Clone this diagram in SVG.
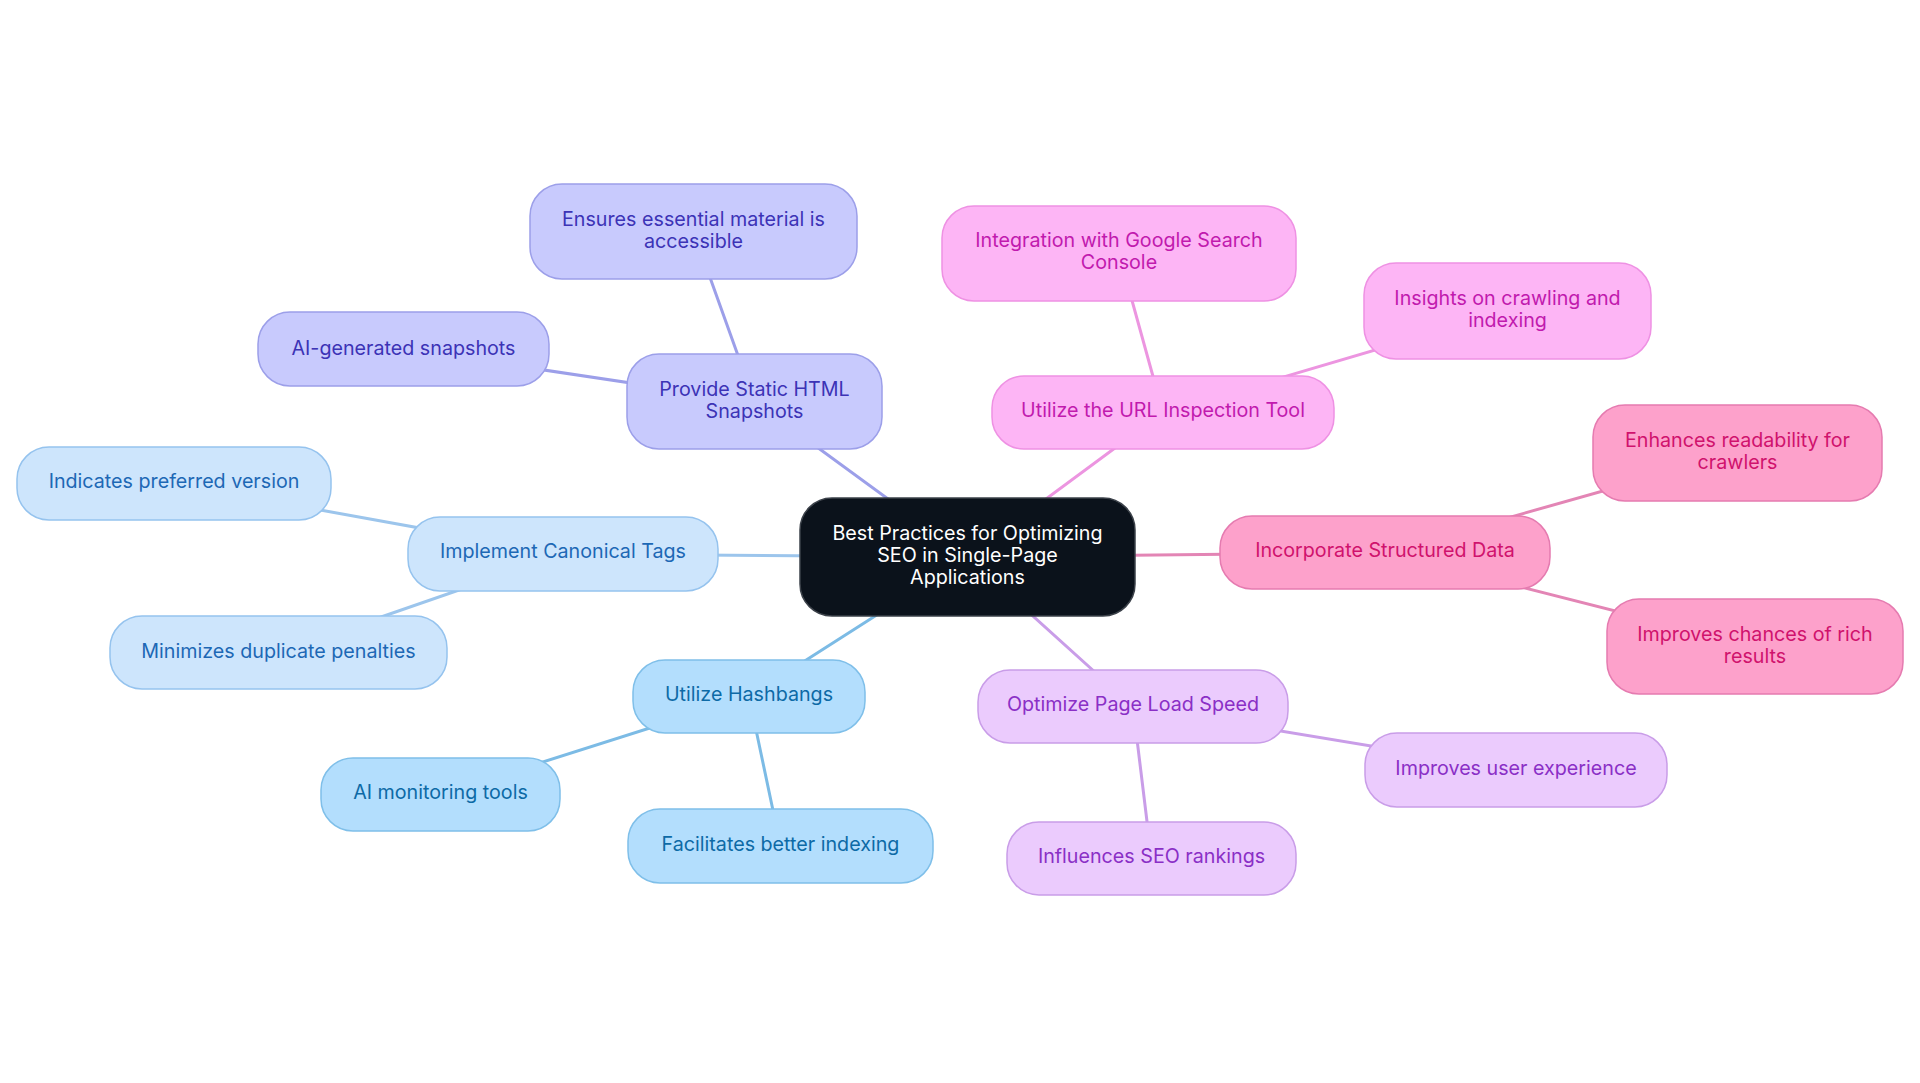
<svg xmlns="http://www.w3.org/2000/svg" width="1920" height="1083" viewBox="0 0 1920 1083">
<style>
text{font-family:Inter,"Noto Sans","Liberation Sans",sans-serif;font-size:19.7px;text-anchor:middle;dominant-baseline:central}
.e{fill:none;stroke-width:3;stroke-linecap:round}
rect{stroke-width:1.5}
.r rect{fill:#0b121b;stroke:#3b4149}.r text{fill:#ffffff}
.p rect{fill:#c8cafd;stroke:#9c9fe9}.p text{fill:#3c33b6}
.c rect{fill:#cde5fc;stroke:#95c3ee}.c text{fill:#1d68b5}
.h rect{fill:#b3defd;stroke:#7fbfe9}.h text{fill:#0d6aa6}
.o rect{fill:#ebcbfd;stroke:#c99de8}.o text{fill:#8a2fc6}
.u rect{fill:#fdb5f5;stroke:#ee91e3}.u text{fill:#c11aae}
.s rect{fill:#fda1cb;stroke:#e57bb0}.s text{fill:#d0126d}
</style>
<rect width="1920" height="1083" fill="#ffffff"/>
<g id="connectors">
<line class="e" stroke="#9c9fe9" x1="967.5" y1="557" x2="754.5" y2="401.5"/>
<line class="e" stroke="#9c9fe9" x1="754.5" y1="401.5" x2="693.5" y2="231.5"/>
<line class="e" stroke="#9c9fe9" x1="754.5" y1="401.5" x2="403.5" y2="349"/>
<line class="e" stroke="#9cc5ec" x1="967.5" y1="557" x2="563" y2="554"/>
<line class="e" stroke="#9cc5ec" x1="563" y1="554" x2="174" y2="483.5"/>
<line class="e" stroke="#9cc5ec" x1="563" y1="554" x2="278.5" y2="652.5"/>
<line class="e" stroke="#7cbbe5" x1="967.5" y1="557" x2="749" y2="696.5"/>
<line class="e" stroke="#7cbbe5" x1="749" y1="696.5" x2="440.5" y2="794.5"/>
<line class="e" stroke="#7cbbe5" x1="749" y1="696.5" x2="780.5" y2="846"/>
<line class="e" stroke="#c99de8" x1="967.5" y1="557" x2="1133" y2="706.5"/>
<line class="e" stroke="#c99de8" x1="1133" y1="706.5" x2="1516" y2="770"/>
<line class="e" stroke="#c99de8" x1="1133" y1="706.5" x2="1151.5" y2="858.5"/>
<line class="e" stroke="#ec95e0" x1="967.5" y1="557" x2="1163" y2="412.5"/>
<line class="e" stroke="#ec95e0" x1="1163" y1="412.5" x2="1119" y2="253.5"/>
<line class="e" stroke="#ec95e0" x1="1163" y1="412.5" x2="1507.5" y2="311"/>
<line class="e" stroke="#e385b5" x1="967.5" y1="557" x2="1385" y2="552.5"/>
<line class="e" stroke="#e385b5" x1="1385" y1="552.5" x2="1737.5" y2="453"/>
<line class="e" stroke="#e385b5" x1="1385" y1="552.5" x2="1755" y2="646.5"/>
</g>
<g id="root" class="r"><rect x="800" y="498" width="335" height="118" rx="32"/><text x="967.5" y="533">Best Practices for Optimizing</text><text x="967.5" y="555">SEO in Single-Page</text><text x="967.5" y="577">Applications</text></g>
<g id="provide" class="p"><rect x="627" y="354" width="255" height="95" rx="32"/><text x="754.5" y="389">Provide Static HTML</text><text x="754.5" y="411">Snapshots</text></g>
<g id="ensures" class="p"><rect x="530" y="184" width="327" height="95" rx="32"/><text x="693.5" y="219">Ensures essential material is</text><text x="693.5" y="241">accessible</text></g>
<g id="aigen" class="p"><rect x="258" y="312" width="291" height="74" rx="32"/><text x="403.5" y="348">AI-generated snapshots</text></g>
<g id="canonical" class="c"><rect x="408" y="517" width="310" height="74" rx="32"/><text x="563" y="551">Implement Canonical Tags</text></g>
<g id="indicates" class="c"><rect x="17" y="447" width="314" height="73" rx="32"/><text x="174" y="481">Indicates preferred version</text></g>
<g id="minimizes" class="c"><rect x="110" y="616" width="337" height="73" rx="32"/><text x="278.5" y="651">Minimizes duplicate penalties</text></g>
<g id="hashbangs" class="h"><rect x="633" y="660" width="232" height="73" rx="32"/><text x="749" y="694">Utilize Hashbangs</text></g>
<g id="aimon" class="h"><rect x="321" y="758" width="239" height="73" rx="32"/><text x="440.5" y="792">AI monitoring tools</text></g>
<g id="facilitates" class="h"><rect x="628" y="809" width="305" height="74" rx="32"/><text x="780.5" y="844">Facilitates better indexing</text></g>
<g id="optimize" class="o"><rect x="978" y="670" width="310" height="73" rx="32"/><text x="1133" y="704">Optimize Page Load Speed</text></g>
<g id="userexp" class="o"><rect x="1365" y="733" width="302" height="74" rx="32"/><text x="1516" y="768">Improves user experience</text></g>
<g id="influences" class="o"><rect x="1007" y="822" width="289" height="73" rx="32"/><text x="1151.5" y="856">Influences SEO rankings</text></g>
<g id="urltool" class="u"><rect x="992" y="376" width="342" height="73" rx="32"/><text x="1163" y="410">Utilize the URL Inspection Tool</text></g>
<g id="integration" class="u"><rect x="942" y="206" width="354" height="95" rx="32"/><text x="1119" y="240">Integration with Google Search</text><text x="1119" y="262">Console</text></g>
<g id="insights" class="u"><rect x="1364" y="263" width="287" height="96" rx="32"/><text x="1507.5" y="298">Insights on crawling and</text><text x="1507.5" y="320">indexing</text></g>
<g id="structured" class="s"><rect x="1220" y="516" width="330" height="73" rx="32"/><text x="1385" y="550">Incorporate Structured Data</text></g>
<g id="enhances" class="s"><rect x="1593" y="405" width="289" height="96" rx="32"/><text x="1737.5" y="440">Enhances readability for</text><text x="1737.5" y="462">crawlers</text></g>
<g id="rich" class="s"><rect x="1607" y="599" width="296" height="95" rx="32"/><text x="1755" y="634">Improves chances of rich</text><text x="1755" y="656">results</text></g>
</svg>
